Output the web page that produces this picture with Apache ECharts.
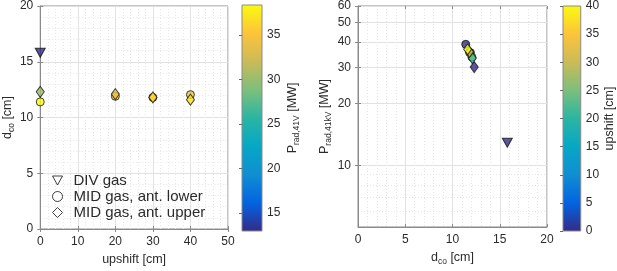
<!DOCTYPE html>
<html>
<head>
<meta charset="utf-8">
<script src="https://cdn.jsdelivr.net/npm/echarts@6/dist/echarts.min.js"></script>
<style>html,body{margin:0;padding:0;background:#fff}#c{width:617px;height:271px}</style>
</head>
<body>
<div id="c"></div>
<script>
// ---- data ----
const upshift   = [0, 20, 30, 40];            // cm
const dcoLower  = [11.4, 11.9, 11.8, 12.05];  // MID gas, ant. lower
const pLower    = [39.0, 35.5, 35.6, 33.8];
const dcoUpper  = [12.3, 12.1, 11.8, 11.6];   // MID gas, ant. upper
const pUpper    = [30.2, 33.4, 35.8, 36.9];
const divUpshift = [0];                       // DIV gas
const divDco     = [15.8];
const divP       = [12.9];

const xTicksLeft  = [0, 10, 20, 30, 40, 50];
const yTicksLeft  = [0, 5, 10, 15, 20];
const cb1Ticks    = [15, 20, 25, 30, 35];
const xTicksRight = [0, 5, 10, 15, 20];
const yTicksRight = [10, 20, 30, 40, 50, 60];
const yMinorRight = [6, 7, 8, 9];

const pRange  = [13.0, 38.35];
const upRange = [0, 40];

const parula = ['#352a87','#0363e1','#108ed2','#06a7c6','#2ab5a3','#7dbf7b','#cbbb57','#fdc43a','#f9fb0e'];

// ---- helpers ----
const FONT = 'Liberation Sans, Arial, Helvetica, sans-serif';
const TXT = '#2b2b2b';
const AX = '#8a8a8a';
const G = {top: 5, height: 226};

function grad() {
  return new echarts.graphic.LinearGradient(0, 1, 0, 0,
    parula.map((c, i) => ({offset: i / (parula.length - 1), color: c})));
}
function subName(main, sub, tail) {
  return '{m|' + main + '}{s|' + sub + '}{m|' + tail + '}';
}
const nameRich = {
  m: {fontSize: 12.5, fontFamily: FONT, color: TXT},
  s: {fontSize: 8.5, fontFamily: FONT, color: TXT, padding: [8, 0, 0, 0]}
};
const lbl = {color: TXT, fontSize: 12, fontFamily: FONT};
const major = {show: true, lineStyle: {color: '#e2e2e2', width: 1}};
const minor = {show: true, lineStyle: {color: '#e6e6e6', width: 1, type: [1, 2]}};
const tick = {show: true, inside: true, length: 3, lineStyle: {color: AX}};
function valAxis(o) {
  return Object.assign({
    type: 'value',
    axisLine: {show: true, onZero: false, lineStyle: {color: AX}},
    axisTick: tick,
    axisLabel: Object.assign({margin: 7}, lbl),
    splitLine: major,
    minorTick: {show: false, splitNumber: 5},
    minorSplitLine: minor
  }, o);
}
function mirror(o) {
  return Object.assign({
    type: 'value',
    axisLine: {show: false},
    axisTick: tick,
    axisLabel: {show: false},
    splitLine: {show: false}
  }, o);
}

const sym = {
  lower: {symbol: 'circle', size: 8},
  upper: {symbol: 'diamond', size: [8, 11]},
  div: {symbol: 'triangle', size: [10, 9], rotate: 180}
};
const border = {borderColor: '#111', borderWidth: 1};

function scatter(name, data, s, xi, yi) {
  return {
    type: 'scatter', name: name, data: data, xAxisIndex: xi, yAxisIndex: yi,
    symbol: s.symbol, symbolSize: s.size, symbolRotate: s.rotate || 0,
    itemStyle: border, z: 3
  };
}

const leftLower = upshift.map((u, i) => [u, dcoLower[i], pLower[i]]);
const leftUpper = upshift.map((u, i) => [u, dcoUpper[i], pUpper[i]]);
const leftDiv   = divUpshift.map((u, i) => [u, divDco[i], divP[i]]);
const rightLower = dcoLower.map((d, i) => [d, pLower[i], upshift[i]]);
const rightUpper = dcoUpper.map((d, i) => [d, pUpper[i], upshift[i]]);
const rightDiv   = divDco.map((d, i) => [d, divP[i], divUpshift[i]]);

const option = {
  animation: false,
  backgroundColor: '#fff',
  textStyle: {fontFamily: FONT},
  grid: [
    {left: 38, width: 190, top: G.top, height: G.height, show: true, borderColor: AX, borderWidth: 1, backgroundColor: '#fff'},
    {left: 242, width: 20, top: G.top, height: G.height, show: true, borderColor: AX, borderWidth: 1, backgroundColor: grad()},
    {left: 358, width: 189, top: G.top, height: G.height, show: true, borderColor: AX, borderWidth: 1, backgroundColor: '#fff'},
    {left: 563, width: 20, top: G.top, height: G.height, show: true, borderColor: AX, borderWidth: 1, backgroundColor: grad()}
  ],
  xAxis: [
    valAxis({gridIndex: 0, min: 0, max: 50, interval: 10,
      axisLabel: Object.assign({margin: 7, customValues: xTicksLeft}, lbl),
      name: 'upshift [cm]', nameLocation: 'middle', nameGap: 24,
      nameTextStyle: {fontSize: 12.5, color: TXT, fontFamily: FONT}}),
    {type: 'value', gridIndex: 1, show: false, min: 0, max: 1},
    valAxis({gridIndex: 2, min: 0, max: 20, interval: 5,
      axisLabel: Object.assign({margin: 7, customValues: xTicksRight}, lbl),
      name: subName('d', 'co', ' [cm]'), nameLocation: 'middle', nameGap: 22,
      nameTextStyle: {rich: nameRich}}),
    {type: 'value', gridIndex: 3, show: false, min: 0, max: 1},
    mirror({gridIndex: 0, position: 'top', min: 0, max: 50, interval: 10}),
    mirror({gridIndex: 2, position: 'top', min: 0, max: 20, interval: 5})
  ],
  yAxis: [
    valAxis({gridIndex: 0, min: 0, max: 20, interval: 5,
      axisLabel: Object.assign({margin: 7, customValues: yTicksLeft}, lbl),
      name: subName('d', 'co', ' [cm]'), nameLocation: 'middle', nameGap: 24, nameRotate: 90,
      nameTextStyle: {rich: nameRich}}),
    {type: 'value', gridIndex: 1, position: 'right', min: pRange[0], max: pRange[1],
      axisLine: {show: false},
      axisTick: {show: true, inside: true, length: 3, lineStyle: {color: '#666'}, customValues: cb1Ticks},
      axisLabel: Object.assign({margin: 5, customValues: cb1Ticks}, lbl),
      splitLine: {show: false},
      name: subName('P', 'rad,41V', ' [MW]'), nameLocation: 'middle', nameGap: 22, nameRotate: 90,
      nameTextStyle: {rich: nameRich}},
    {type: 'log', gridIndex: 2, min: 5, max: 60, position: 'left',
      axisLine: {show: true, onZero: false, lineStyle: {color: AX}},
      axisTick: Object.assign({customValues: yTicksRight}, tick),
      axisLabel: Object.assign({margin: 7, customValues: yTicksRight}, lbl),
      splitLine: major,
      name: subName('P', 'rad,41kV', ' [MW]'), nameLocation: 'middle', nameGap: 25, nameRotate: 90,
      nameTextStyle: {rich: nameRich}},
    {type: 'log', gridIndex: 2, min: 5, max: 60, position: 'left', offset: 0,
      axisLine: {show: false},
      axisTick: {show: false, customValues: yMinorRight},
      axisLabel: {show: false, customValues: yMinorRight},
      splitLine: minor},
    {type: 'value', gridIndex: 3, position: 'right', min: upRange[0], max: upRange[1], interval: 5,
      axisLine: {show: false},
      axisTick: {show: true, inside: true, length: 3, lineStyle: {color: '#666'}},
      axisLabel: Object.assign({margin: 5}, lbl),
      splitLine: {show: false},
      name: 'upshift [cm]', nameLocation: 'middle', nameGap: 22, nameRotate: 90,
      nameTextStyle: {fontSize: 12.5, color: TXT, fontFamily: FONT}},
    mirror({gridIndex: 0, position: 'right', min: 0, max: 20, interval: 5}),
    mirror({type: 'log', gridIndex: 2, position: 'right', min: 5, max: 60,
      axisTick: Object.assign({customValues: yTicksRight}, tick),
      axisLabel: {show: false, customValues: yTicksRight}})
  ],
  visualMap: [
    {type: 'continuous', show: false, min: pRange[0], max: pRange[1], dimension: 2,
      seriesIndex: [0, 1, 2], inRange: {color: parula}},
    {type: 'continuous', show: false, min: upRange[0], max: upRange[1], dimension: 2,
      seriesIndex: [3, 4, 5], inRange: {color: parula}}
  ],
  legend: {
    orient: 'vertical', left: 47, top: 168, itemGap: 1, itemWidth: 10, itemHeight: 10,
    textStyle: {fontSize: 15, color: TXT, fontFamily: FONT, padding: [0, 0, 0, 6]},
    selectedMode: false,
    data: [
      {name: 'DIV gas', icon: 'path://M0,0 L10,0 L5,9 Z', itemStyle: {color: '#fff', borderColor: '#111', borderWidth: 1}},
      {name: 'MID gas, ant. lower', icon: 'circle', itemStyle: {color: '#fff', borderColor: '#111', borderWidth: 1}},
      {name: 'MID gas, ant. upper', icon: 'diamond', itemStyle: {color: '#fff', borderColor: '#111', borderWidth: 1}}
    ]
  },
  series: [
    scatter('DIV gas', leftDiv, sym.div, 0, 0),
    scatter('MID gas, ant. lower', leftLower, sym.lower, 0, 0),
    scatter('MID gas, ant. upper', leftUpper, sym.upper, 0, 0),
    scatter('DIV gas R', rightDiv, sym.div, 2, 2),
    scatter('MID lower R', rightLower, sym.lower, 2, 2),
    scatter('MID upper R', rightUpper, sym.upper, 2, 2)
  ]
};

const chart = echarts.init(document.getElementById('c'), null, {renderer: 'canvas'});
chart.setOption(option);
</script>
</body>
</html>
